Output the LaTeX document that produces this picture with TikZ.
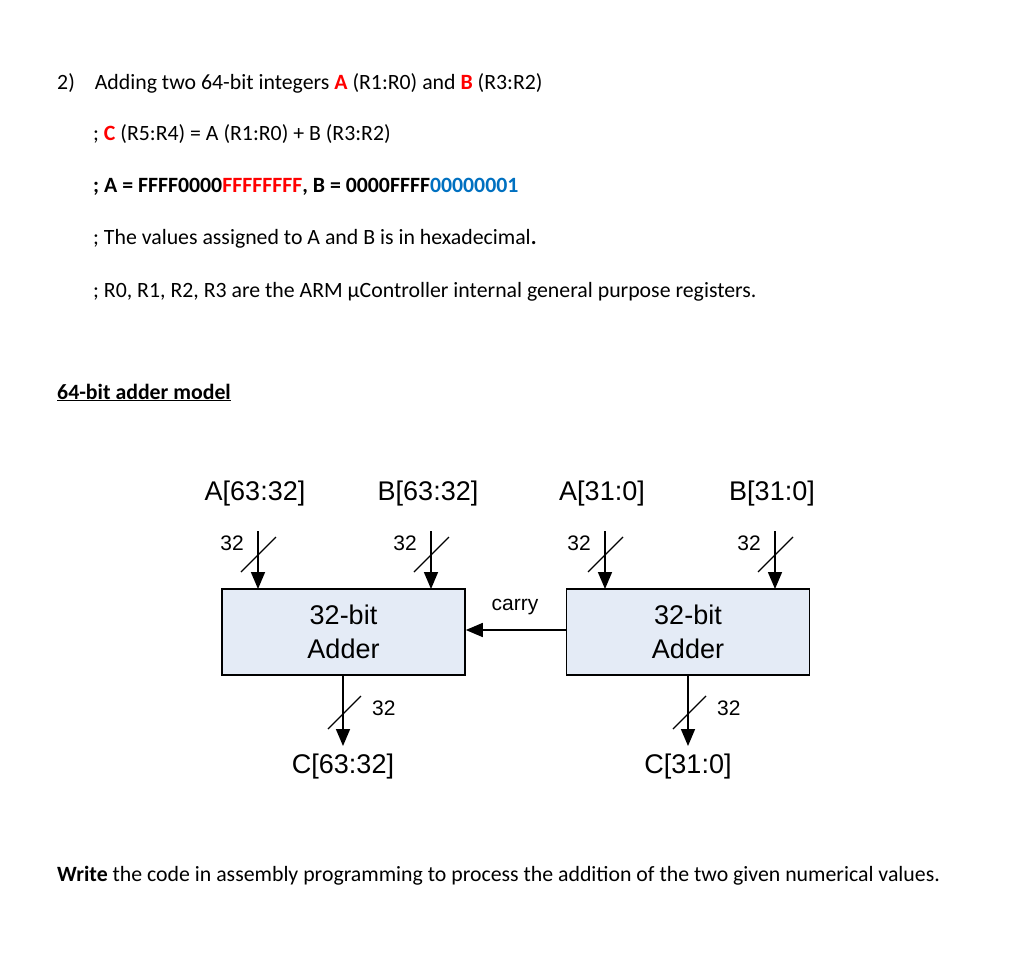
\documentclass[tikz,border=0pt]{standalone}
\usepackage{fontspec}
\setmainfont{Carlito}
\newfontfamily\arialf{Liberation Sans}
\usetikzlibrary{arrows.meta}
\definecolor{myred}{HTML}{FF0000}
\definecolor{myblue}{HTML}{0070C0}
\definecolor{boxfill}{HTML}{E4EBF6}
\begin{document}
\begin{tikzpicture}[x=1pt,y=-1pt,
  txt/.style={anchor=base west,inner sep=0pt,font=\fontsize{21.8}{26}\selectfont},
  lbl/.style={inner sep=0pt,font=\arialf\fontsize{27}{32}\selectfont},
  num/.style={inner sep=0pt,font=\arialf\fontsize{21}{25}\selectfont},
  adder/.style={draw,line width=1.6pt,fill=boxfill,minimum width=243pt,minimum height=86pt,align=center,font=\arialf\fontsize{27}{34}\selectfont},
  bus/.style={line width=1.6pt,-{Triangle[length=17pt,width=14pt]}},
  slash/.style={line width=1.3pt}]
\useasboundingbox (0,0) rectangle (1020,969);
\node[txt] (t1) at (57,89) {2)\hspace{20pt}Adding two 64-bit integers \textbf{\textcolor{myred}{A}} (R1:R0) and \textbf{\textcolor{myred}{B}} (R3:R2)};
\node[txt] (t2) at (93,140) {; \textbf{\textcolor{myred}{C}} (R5:R4) = A (R1:R0) + B (R3:R2)};
\node[txt] (t3) at (93,192) {\textbf{; A = FFFF0000\textcolor{myred}{FFFFFFFF}, B = 0000FFFF\textcolor{myblue}{00000001}}};
\node[txt] (t4) at (93,244) {; The values assigned to A and B is in hexadecimal\textbf{.}};
\node[txt] (t5) at (93,297) {; R0, R1, R2, R3 are the ARM μController internal general purpose registers.};
\node[txt] (t6) at (57,399) {\textbf{\underline{64-bit adder model}}};
\node[txt] (t7) at (57,881) {\textbf{Write} the code in assembly programming to process the addition of the two given numerical values.};

\node[adder] (L) at (343.5,632) {32-bit\\Adder};
\node[adder] (R) at (688,632) {32-bit\\Adder};

\foreach \n/\x/\t in {a1/258/A[63:32], b1/431/B[63:32], a0/605/A[31:0], b0/775/B[31:0]}{
  \node[lbl] (\n) at (\x-3,494) {\t};
  \coordinate (\n s) at (\x,531);
  \coordinate (\n e) at (\x,589);
  \draw[bus] (\n s) -- (\n e);
  \draw[slash] (\x-17,572) -- (\x+18,537);
  \node[num,anchor=east] at (\x-14,543) {32};
}
\foreach \n/\x/\t in {c1/343/C[63:32], c0/688/C[31:0]}{
  \coordinate (\n s) at (\x,675);
  \coordinate (\n e) at (\x,746);
  \draw[bus] (\n s) -- (\n e);
  \draw[slash] (\x-15,729) -- (\x+18,696);
  \node[num,anchor=west] at (\x+29,708) {32};
  \node[lbl] (\n) at (\x,767) {\t};
}
\draw[bus] (R.west |- 0,630) -- (L.east |- 0,630);
\node[num] (carry) at (515,607) {carry};
\end{tikzpicture}
\end{document}
